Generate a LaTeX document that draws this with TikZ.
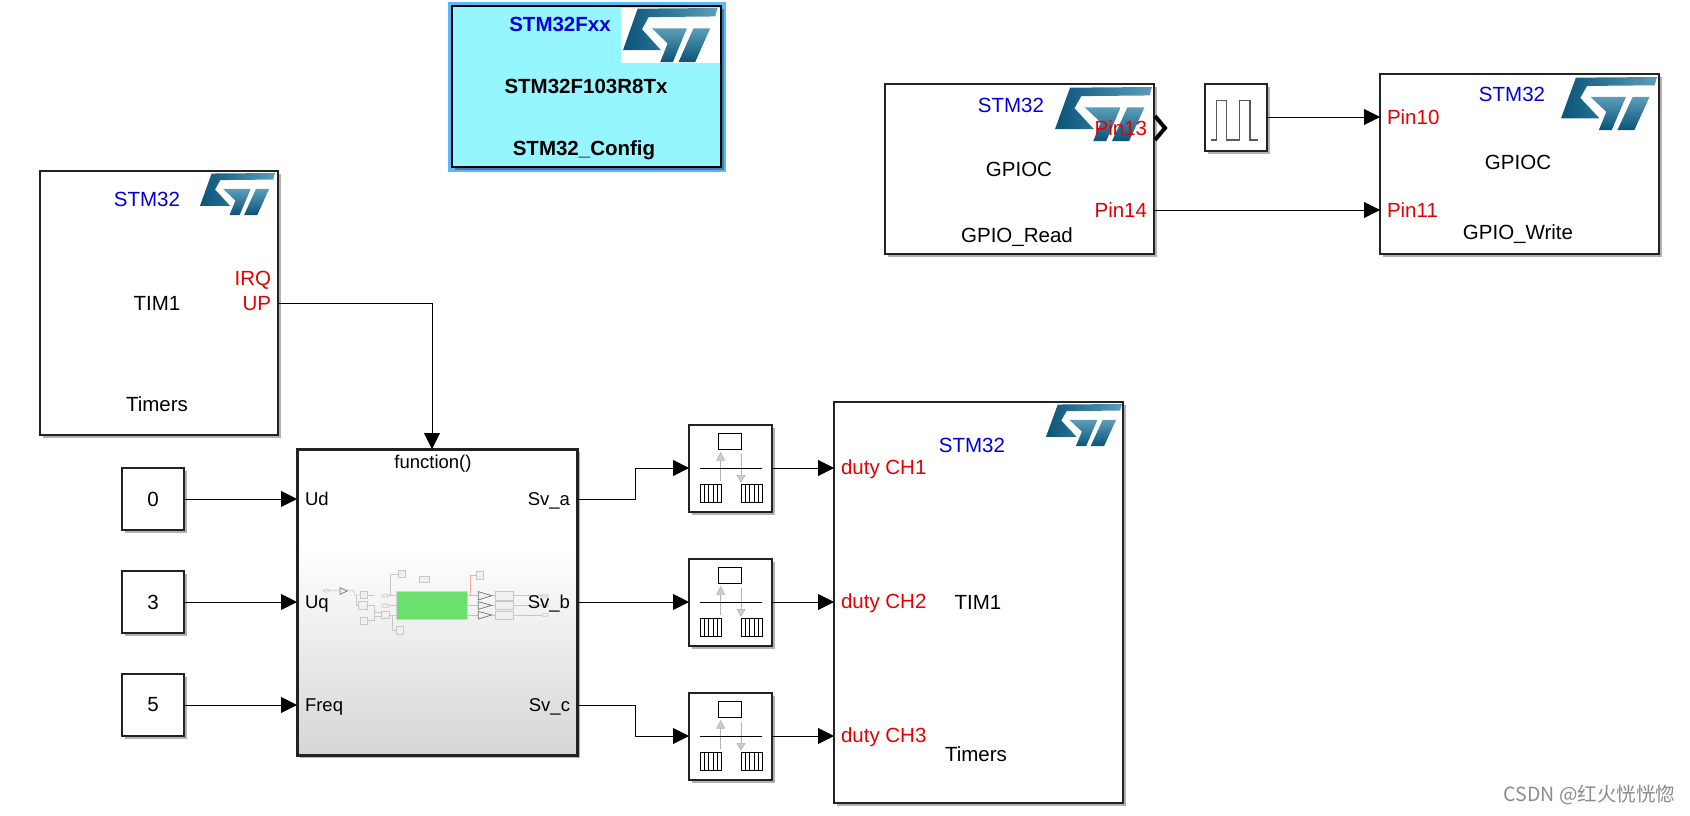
\documentclass[tikz,border=0pt]{standalone}
\usepackage{fontspec}
\setmainfont{Liberation Sans}
\newfontfamily\cjkwm{Noto Sans CJK SC}
\usetikzlibrary{arrows.meta,shadows}
\definecolor{stred}{HTML}{E60000}
\definecolor{stblue}{HTML}{0000D8}
\definecolor{cfgcyan}{HTML}{96F6FF}
\definecolor{cfgblue}{HTML}{5CB8F8}
\definecolor{logodark}{HTML}{0A5478}
\definecolor{logomid}{HTML}{1F7398}
\definecolor{logolight}{HTML}{5C9DBA}
\definecolor{blockline}{HTML}{222222}
\definecolor{minigreen}{HTML}{6CE06C}
\tikzset{
  shd/.style={drop shadow={shadow xshift=2.5pt,shadow yshift=-2.5pt,fill=black,opacity=.3}},
  blk/.style={draw=blockline,line width=1.5pt,fill=white,rectangle,inner sep=0pt,outer sep=0pt,shd},
  wire/.style={line width=.9pt,draw=black},
  arrowed/.style={wire,-{Triangle[length=16pt,width=16pt]}},
  lab/.style={font=\fontsize{20.5}{24}\selectfont,inner sep=0pt,outer sep=0pt,anchor=base,yshift=1pt},
  labl/.style={lab,anchor=base west},
  labr/.style={lab,anchor=base east},
  redl/.style={labl,text=stred},
  redr/.style={labr,text=stred},
  bluec/.style={lab,text=stblue},
  fnl/.style={labl,font=\fontsize{18.5}{22}\selectfont},
  fnr/.style={labr,font=\fontsize{18.5}{22}\selectfont},
  mini/.style={draw=black!22,line width=.6pt,fill=white!94!black},
  miniw/.style={draw=black!22,line width=.6pt},
  minir/.style={draw=red!35,line width=.6pt},
  minit/.style={draw=black!55,line width=.7pt,fill=white!94!black},
  rbk/.style={draw=black,line width=.8pt},
}
\newcommand{\stlogo}[4]{%
  \begin{scope}[shift={(#1,#2)},xscale=(#3-#1)/284,yscale=(#4-#2)/160]
    \shade[left color=logodark,right color=logolight] (44,2)--(284,0)--(277,25)--(77,27)--(57,63)--(114,125)--(0,125)--cycle;
    \shade[top color=logolight,bottom color=logodark] (87,60)--(192,60)--(150,160)--(112,160)--(134,105)--cycle;
    \shade[top color=logolight,bottom color=logodark] (212,60)--(262,60)--(217,160)--(167,160)--cycle;
  \end{scope}}
\newcommand{\ratebody}[2]{%
  \begin{scope}[shift={(#1,#2)},scale=1/3]
    \draw[draw=black!30,line width=.8pt] (95,168)--(95,106);
    \draw[draw=black!30,fill=black!20,line width=.6pt] (83,106)--(95,83)--(107,106)--cycle;
    \draw[draw=black!30,line width=.8pt] (156,86)--(156,151);
    \draw[draw=black!30,fill=black!20,line width=.6pt] (144,151)--(156,171)--(168,151)--cycle;
    \draw[rbk] (87,26) rectangle (157,74);
    \draw[rbk] (32,131)--(220,131);
    \draw[rbk] (33,179) rectangle (97,231);
    \draw[rbk] (46,179)--(46,231) (59,179)--(59,231) (72,179)--(72,231) (84,179)--(84,231);
    \draw[rbk] (156,179) rectangle (220,231);
    \draw[rbk] (169,179)--(169,231) (182,179)--(182,231) (195,179)--(195,231) (207,179)--(207,231);
  \end{scope}}
\begin{document}
\begin{tikzpicture}[x=1pt,y=-1pt]
\useasboundingbox (0,0) rectangle (1690,815);
\fill[white] (0,0) rectangle (1690,815);

% Config block
\node[draw=none,fill=cfgblue,inner sep=0pt,minimum width=278pt,minimum height=170pt] (cfgframe) at (587,87) {};
\node[blk,draw=black,line width=1.3pt,fill=cfgcyan,minimum width=269pt,minimum height=161pt] (cfg) at (586.5,86.5) {};
\fill[white] (621,7.5) rectangle (720,63);
\stlogo{623}{8}{717.5}{62}
\node[bluec,font=\bfseries\fontsize{20.5}{24}\selectfont] (cfgt) at (560,32) {STM32Fxx};
\node[lab,font=\bfseries\fontsize{20.5}{24}\selectfont] (cfgm) at (586,94) {STM32F103R8Tx};
\node[lab,font=\bfseries\fontsize{20.5}{24}\selectfont] (cfgb) at (584,156) {STM32\_Config};

% Left timer
\node[blk,minimum width=238pt,minimum height=264pt] (timup) at (159,303) {};
\stlogo{200}{173}{275}{215}
\node[bluec] (timupt) at (147,207) {STM32};
\node[lab] (timupm) at (157,311) {TIM1};
\node[redr] (timupirq) at (271,286) {IRQ};
\node[redr] (timupup) at (271,311) {UP};
\node[lab] (timupb) at (157,412) {Timers};

% GPIO read
\node[blk,minimum width=269pt,minimum height=170pt] (gread) at (1019.5,169) {};
\stlogo{1055}{87}{1152}{141}
\node[bluec] (greadt) at (1011,113) {STM32};
\node[redr] (pinthirteen) at (1147,136) {Pin13};
\node[lab] (greadm) at (1019,177) {GPIOC};
\node[redr] (pinfourteen) at (1147,218) {Pin14};
\node[lab] (greadb) at (1017,243) {GPIO\_Read};
\coordinate (chevtop) at (1155,116);
\coordinate (chevtip) at (1165,128);
\coordinate (chevbot) at (1155,140);
\draw[black,line width=4pt] (chevtop)--(chevtip)--(chevbot);
\coordinate (greadout) at (gread.east |- 0,210);

% Pulse
\node[blk,minimum width=62pt,minimum height=67pt] (pulse) at (1236,117.5) {};
\begin{scope}[shift={(870,60)},scale=1/3]
  \draw[black!65,line width=1.2pt] (1022,240)--(1040,240)--(1040,122)--(1070,122)--(1070,240)--(1108,240)--(1108,122)--(1140,122)--(1140,240)--(1163,240);
\end{scope}

% GPIO write
\node[blk,minimum width=279pt,minimum height=180pt] (gwrite) at (1519.5,164) {};
\stlogo{1561}{77}{1657}{130}
\node[bluec] (gwritet) at (1512,102) {STM32};
\node[redl] (pinten) at (1387,125) {Pin10};
\node[lab] (gwritem) at (1518,170) {GPIOC};
\node[redl] (pineleven) at (1387,218) {Pin11};
\node[lab] (gwriteb) at (1518,240) {GPIO\_Write};
\coordinate (pulseout) at (pulse.east |- 0,117);
\coordinate (gwritea) at (gwrite.west |- 0,117);
\coordinate (gwriteb2) at (gwrite.west |- 0,210);

\draw[arrowed] (pulseout) -- (gwritea);
\draw[arrowed] (greadout) -- (gwriteb2);

% Constants
\node[blk,minimum width=62pt,minimum height=62pt,font=\fontsize{20.5}{24}\selectfont] (czero) at (153,499) {0};
\node[blk,minimum width=62pt,minimum height=62pt,font=\fontsize{20.5}{24}\selectfont] (cthree) at (153,602) {3};
\node[blk,minimum width=62pt,minimum height=62pt,font=\fontsize{20.5}{24}\selectfont] (cfive) at (153,705) {5};

% Function block
\node[blk,line width=3pt,minimum width=280pt,minimum height=306pt] (func) at (437,602) {};
\shade[top color=white,bottom color=black!16] (297,545) rectangle (577,755);
\draw[blockline,line width=3pt] (func.north west) rectangle (func.south east);
\coordinate (funcud) at (func.west |- 0,499);
\coordinate (funcuq) at (func.west |- 0,602);
\coordinate (funcfreq) at (func.west |- 0,705);
\coordinate (funcsa) at (func.east |- 0,499);
\coordinate (funcsb) at (func.east |- 0,602);
\coordinate (funcsc) at (func.east |- 0,705);
\coordinate (functrig) at (432,449);
\begin{scope}[shift={(340,550)},scale=1/3]
  \draw[miniw] (-30,122)--(0,122) (22,122)--(40,122)--(45,135)--(60,135);
  \draw[miniw] (50,135)--(50,165)--(55,165) (82,165)--(103,165);
  \draw[miniw] (103,135)--(82,135) (103,165)--(103,212)--(82,212) (103,187)--(125,187) (103,200)--(125,200);
  \draw[miniw] (147,137)--(170,137) (152,137)--(152,72)--(175,72);
  \draw[miniw] (147,167)--(170,167) (148,195)--(170,195) (158,195)--(158,241)--(170,241);
  \draw[minir] (383,137)--(415,137) (392,137)--(392,77)--(410,77) (383,167)--(415,167) (383,195)--(415,195);
  \draw[miniw] (455,137)--(466,137) (455,166)--(466,166) (455,195)--(466,195);
  \draw[miniw] (520,137)--(605,137) (520,166)--(605,166) (520,195)--(605,195);
  \draw[mini] (60,125) rectangle (82,146);
  \draw[mini] (55,155) rectangle (82,178);
  \draw[mini] (60,203) rectangle (82,223);
  \draw[mini] (125,183) rectangle (148,205);
  \draw[mini] (175,62) rectangle (197,82);
  \draw[mini] (238,79) rectangle (267,97);
  \draw[mini] (170,230) rectangle (190,253);
  \draw[mini] (410,65) rectangle (430,88);
  \draw[mini] (466,125) rectangle (520,150);
  \draw[mini] (466,153) rectangle (520,178);
  \draw[mini] (466,183) rectangle (520,208);
  \draw[mini,rounded corners=1.2pt] (125,133) rectangle (147,141);
  \draw[mini,rounded corners=1.2pt] (125,162) rectangle (147,172);
  \draw[mini,rounded corners=1.2pt] (605,133) rectangle (625,141);
  \draw[mini,rounded corners=1.2pt] (605,162) rectangle (625,170);
  \draw[mini,rounded corners=1.2pt] (605,190) rectangle (625,199);
  \draw[mini,rounded corners=1.2pt] (-50,118) rectangle (-30,126);
  \draw[minit] (0,113)--(22,123)--(0,133)--cycle;
  \draw[minit] (415,125)--(455,137)--(415,150)--cycle;
  \draw[minit] (415,155)--(455,166)--(415,178)--cycle;
  \draw[minit] (415,184)--(455,195)--(415,207)--cycle;
  \draw[draw=black!18,line width=.6pt,fill=minigreen] (170,125) rectangle (383,207);
\end{scope}
\node[lab,font=\fontsize{18.5}{22}\selectfont] (funct) at (433,469) {function()};
\node[fnl] (ud) at (305,506) {Ud};
\node[fnl] (uq) at (305,609) {Uq};
\node[fnl] (freq) at (305,712) {Freq};
\node[fnr] (sva) at (570,506) {Sv\_a};
\node[fnr] (svb) at (570,609) {Sv\_b};
\node[fnr] (svc) at (570,712) {Sv\_c};

% Rate transitions
\node[blk,minimum width=83pt,minimum height=87pt] (rta) at (730.5,468.5) {};
\node[blk,minimum width=83pt,minimum height=87pt] (rtb) at (730.5,602.5) {};
\node[blk,minimum width=83pt,minimum height=87pt] (rtc) at (730.5,736.5) {};
\ratebody{689}{425}
\ratebody{689}{559}
\ratebody{689}{693}

% Output timer
\node[blk,minimum width=289pt,minimum height=401pt] (timout) at (978.5,602.5) {};
\stlogo{1046}{404}{1122}{446}
\node[bluec] (timoutt) at (972,453) {STM32};
\node[redl] (dutyone) at (841,475) {duty CH1};
\node[redl] (dutytwo) at (841,609) {duty CH2};
\node[redl] (dutythree) at (841,743) {duty CH3};
\node[lab] (timoutm) at (978,610) {TIM1};
\node[lab] (timoutb) at (976,762) {Timers};
\coordinate (timouta) at (timout.west |- 0,468);
\coordinate (timoutb2) at (timout.west |- 0,602);
\coordinate (timoutc) at (timout.west |- 0,736);
\coordinate (rtain) at (rta.west |- 0,468);
\coordinate (rtbin) at (rtb.west |- 0,602);
\coordinate (rtcin) at (rtc.west |- 0,736);
\coordinate (rtaout) at (rta.east |- 0,468);
\coordinate (rtbout) at (rtb.east |- 0,602);
\coordinate (rtcout) at (rtc.east |- 0,736);
\coordinate (timupport) at (timup.east |- 0,303);

% Connectors
\draw[arrowed] (czero.east) -- (funcud);
\draw[arrowed] (cthree.east) -- (funcuq);
\draw[arrowed] (cfive.east) -- (funcfreq);
\draw[arrowed] (timupport) -| (functrig);
\draw[arrowed] (funcsa) -- (635,499) -- (635,468) -- (rtain);
\draw[arrowed] (funcsb) -- (rtbin);
\draw[arrowed] (funcsc) -- (635,705) -- (635,736) -- (rtcin);
\draw[arrowed] (rtaout) -- (timouta);
\draw[arrowed] (rtbout) -- (timoutb2);
\draw[arrowed] (rtcout) -- (timoutc);

% Watermark
\node[labr,font=\cjkwm\fontsize{19.5}{23}\selectfont,text=black!45] (wm) at (1675,802) {CSDN @红火恍恍惚};
\end{tikzpicture}
\end{document}
